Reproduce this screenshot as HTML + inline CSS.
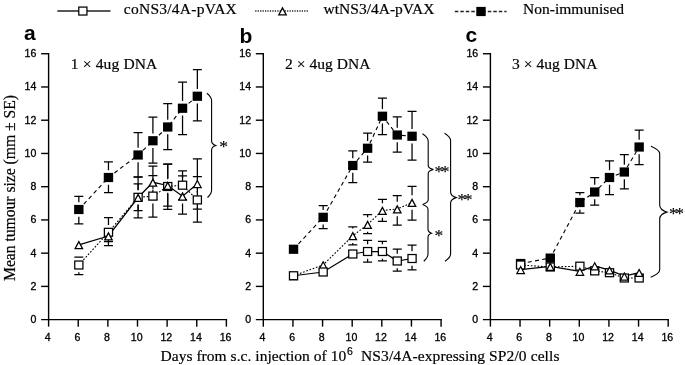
<!DOCTYPE html>
<html><head><meta charset="utf-8"><title>Figure</title>
<style>html,body{margin:0;padding:0;background:#fff}svg{display:block}</style></head>
<body>
<svg width="685" height="365" viewBox="0 0 685 365">
<rect width="685" height="365" fill="#fff"/>
<g stroke="#000" stroke-width="1.4" fill="none" stroke-linecap="butt">
<path d="M48.60 52.98 V319.65 M41.10 319.65 H227.13"/>
<path d="M41.10 286.41 H48.60"/>
<path d="M41.10 253.17 H48.60"/>
<path d="M41.10 219.93 H48.60"/>
<path d="M41.10 186.69 H48.60"/>
<path d="M41.10 153.45 H48.60"/>
<path d="M41.10 120.21 H48.60"/>
<path d="M41.10 86.97 H48.60"/>
<path d="M41.10 53.73 H48.60"/>
<path d="M48.60 319.65 V326.65"/>
<path d="M78.23 319.65 V326.65"/>
<path d="M107.86 319.65 V326.65"/>
<path d="M137.49 319.65 V326.65"/>
<path d="M167.12 319.65 V326.65"/>
<path d="M196.75 319.65 V326.65"/>
<path d="M226.38 319.65 V326.65"/>
<path d="M263.30 52.98 V319.65 M255.80 319.65 H441.83"/>
<path d="M255.80 286.41 H263.30"/>
<path d="M255.80 253.17 H263.30"/>
<path d="M255.80 219.93 H263.30"/>
<path d="M255.80 186.69 H263.30"/>
<path d="M255.80 153.45 H263.30"/>
<path d="M255.80 120.21 H263.30"/>
<path d="M255.80 86.97 H263.30"/>
<path d="M255.80 53.73 H263.30"/>
<path d="M263.30 319.65 V326.65"/>
<path d="M292.93 319.65 V326.65"/>
<path d="M322.56 319.65 V326.65"/>
<path d="M352.19 319.65 V326.65"/>
<path d="M381.82 319.65 V326.65"/>
<path d="M411.45 319.65 V326.65"/>
<path d="M441.08 319.65 V326.65"/>
<path d="M490.40 52.98 V319.65 M482.90 319.65 H668.93"/>
<path d="M482.90 286.41 H490.40"/>
<path d="M482.90 253.17 H490.40"/>
<path d="M482.90 219.93 H490.40"/>
<path d="M482.90 186.69 H490.40"/>
<path d="M482.90 153.45 H490.40"/>
<path d="M482.90 120.21 H490.40"/>
<path d="M482.90 86.97 H490.40"/>
<path d="M482.90 53.73 H490.40"/>
<path d="M490.40 319.65 V326.65"/>
<path d="M520.03 319.65 V326.65"/>
<path d="M549.66 319.65 V326.65"/>
<path d="M579.29 319.65 V326.65"/>
<path d="M608.92 319.65 V326.65"/>
<path d="M638.55 319.65 V326.65"/>
<path d="M668.18 319.65 V326.65"/>
</g>
<g font-family="'Liberation Sans',sans-serif" font-size="10" fill="#000" stroke="#000" stroke-width="0.3">
<text transform="translate(36.40,323.15) scale(1.06,1)" text-anchor="end">0</text>
<text transform="translate(36.40,289.91) scale(1.06,1)" text-anchor="end">2</text>
<text transform="translate(36.40,256.67) scale(1.06,1)" text-anchor="end">4</text>
<text transform="translate(36.40,223.43) scale(1.06,1)" text-anchor="end">6</text>
<text transform="translate(36.40,190.19) scale(1.06,1)" text-anchor="end">8</text>
<text transform="translate(36.40,156.95) scale(1.06,1)" text-anchor="end">10</text>
<text transform="translate(36.40,123.71) scale(1.06,1)" text-anchor="end">12</text>
<text transform="translate(36.40,90.47) scale(1.06,1)" text-anchor="end">14</text>
<text transform="translate(36.40,57.23) scale(1.06,1)" text-anchor="end">16</text>
<text transform="translate(47.80,341) scale(1.06,1)" text-anchor="middle">4</text>
<text transform="translate(77.43,341) scale(1.06,1)" text-anchor="middle">6</text>
<text transform="translate(107.06,341) scale(1.06,1)" text-anchor="middle">8</text>
<text transform="translate(136.69,341) scale(1.06,1)" text-anchor="middle">10</text>
<text transform="translate(166.32,341) scale(1.06,1)" text-anchor="middle">12</text>
<text transform="translate(195.95,341) scale(1.06,1)" text-anchor="middle">14</text>
<text transform="translate(225.58,341) scale(1.06,1)" text-anchor="middle">16</text>
<text transform="translate(251.10,323.15) scale(1.06,1)" text-anchor="end">0</text>
<text transform="translate(251.10,289.91) scale(1.06,1)" text-anchor="end">2</text>
<text transform="translate(251.10,256.67) scale(1.06,1)" text-anchor="end">4</text>
<text transform="translate(251.10,223.43) scale(1.06,1)" text-anchor="end">6</text>
<text transform="translate(251.10,190.19) scale(1.06,1)" text-anchor="end">8</text>
<text transform="translate(251.10,156.95) scale(1.06,1)" text-anchor="end">10</text>
<text transform="translate(251.10,123.71) scale(1.06,1)" text-anchor="end">12</text>
<text transform="translate(251.10,90.47) scale(1.06,1)" text-anchor="end">14</text>
<text transform="translate(251.10,57.23) scale(1.06,1)" text-anchor="end">16</text>
<text transform="translate(262.50,341) scale(1.06,1)" text-anchor="middle">4</text>
<text transform="translate(292.13,341) scale(1.06,1)" text-anchor="middle">6</text>
<text transform="translate(321.76,341) scale(1.06,1)" text-anchor="middle">8</text>
<text transform="translate(351.39,341) scale(1.06,1)" text-anchor="middle">10</text>
<text transform="translate(381.02,341) scale(1.06,1)" text-anchor="middle">12</text>
<text transform="translate(410.65,341) scale(1.06,1)" text-anchor="middle">14</text>
<text transform="translate(440.28,341) scale(1.06,1)" text-anchor="middle">16</text>
<text transform="translate(478.20,323.15) scale(1.06,1)" text-anchor="end">0</text>
<text transform="translate(478.20,289.91) scale(1.06,1)" text-anchor="end">2</text>
<text transform="translate(478.20,256.67) scale(1.06,1)" text-anchor="end">4</text>
<text transform="translate(478.20,223.43) scale(1.06,1)" text-anchor="end">6</text>
<text transform="translate(478.20,190.19) scale(1.06,1)" text-anchor="end">8</text>
<text transform="translate(478.20,156.95) scale(1.06,1)" text-anchor="end">10</text>
<text transform="translate(478.20,123.71) scale(1.06,1)" text-anchor="end">12</text>
<text transform="translate(478.20,90.47) scale(1.06,1)" text-anchor="end">14</text>
<text transform="translate(478.20,57.23) scale(1.06,1)" text-anchor="end">16</text>
<text transform="translate(489.60,341) scale(1.06,1)" text-anchor="middle">4</text>
<text transform="translate(519.23,341) scale(1.06,1)" text-anchor="middle">6</text>
<text transform="translate(548.86,341) scale(1.06,1)" text-anchor="middle">8</text>
<text transform="translate(578.49,341) scale(1.06,1)" text-anchor="middle">10</text>
<text transform="translate(608.12,341) scale(1.06,1)" text-anchor="middle">12</text>
<text transform="translate(637.75,341) scale(1.06,1)" text-anchor="middle">14</text>
<text transform="translate(667.38,341) scale(1.06,1)" text-anchor="middle">16</text>
</g>
<g stroke="#000" stroke-width="1.25" fill="none">
<path d="M78.83 196.25 V202.20 M74.33 196.25 H83.33 M78.83 216.80 V223.75 M74.33 223.75 H83.33"/>
<path d="M108.46 161.75 V170.20 M103.96 161.75 H112.96 M108.46 184.80 V192.50 M103.96 192.50 H112.96"/>
<path d="M138.09 132.50 V147.70 M133.59 132.50 H142.59 M138.09 162.30 V177.00 M133.59 177.00 H142.59"/>
<path d="M152.91 117.00 V133.45 M148.41 117.00 H157.41 M152.91 148.05 V163.00 M148.41 163.00 H157.41"/>
<path d="M167.72 103.50 V119.70 M163.22 103.50 H172.22 M167.72 134.30 V149.50 M163.22 149.50 H172.22"/>
<path d="M182.54 82.00 V100.95 M178.04 82.00 H187.04 M182.54 115.55 V134.50 M178.04 134.50 H187.04"/>
<path d="M197.35 69.50 V88.95 M192.85 69.50 H201.85 M197.35 103.55 V120.75 M192.85 120.75 H201.85"/>
<path d="M78.83 257.00 V257.70 M74.33 257.00 H83.33 M78.83 272.30 V274.50 M74.33 274.50 H83.33"/>
<path d="M108.46 217.50 V225.00 M103.96 217.50 H112.96 M108.46 239.60 V245.50 M103.96 245.50 H112.96"/>
<path d="M138.09 183.80 V190.00 M133.59 183.80 H142.59 M138.09 204.60 V210.50 M133.59 210.50 H142.59"/>
<path d="M152.91 175.50 V188.80 M148.41 175.50 H157.41 M152.91 203.40 V217.20 M148.41 217.20 H157.41"/>
<path d="M167.72 164.00 V179.20 M163.22 164.00 H172.22 M167.72 193.80 V209.30 M163.22 209.30 H172.22"/>
<path d="M182.54 170.80 V177.90 M178.04 170.80 H187.04 M182.54 192.50 V199.60 M178.04 199.60 H187.04"/>
<path d="M197.35 176.50 V192.60 M192.85 176.50 H201.85 M197.35 207.20 V222.20 M192.85 222.20 H201.85"/>
<path d="M103.96 230.50 H112.96 M103.96 241.50 H112.96"/>
<path d="M138.09 176.80 V190.30 M133.59 176.80 H142.59 M138.09 204.70 V217.80 M133.59 217.80 H142.59"/>
<path d="M152.91 166.20 V175.10 M148.41 166.20 H157.41 M152.91 189.50 V199.60 M148.41 199.60 H157.41"/>
<path d="M167.72 164.00 V178.30 M163.22 164.00 H172.22 M167.72 192.70 V206.00 M163.22 206.00 H172.22"/>
<path d="M182.54 175.90 V189.10 M178.04 175.90 H187.04 M182.54 203.50 V214.00 M178.04 214.00 H187.04"/>
<path d="M197.35 158.80 V176.50 M192.85 158.80 H201.85 M197.35 190.90 V209.00 M192.85 209.00 H201.85"/>
</g>
<polyline points="78.83,209.50 108.46,177.50 138.09,155.00 152.91,140.75 167.72,127.00 182.54,108.25 197.35,96.25" stroke-dasharray="4 3.3" stroke="#000" stroke-width="1.1" fill="none"/>
<polyline points="78.83,265.00 108.46,232.30 138.09,197.30 152.91,196.10 167.72,186.50 182.54,185.20 197.35,199.90" stroke-dasharray="1.7 1.7" stroke="#000" stroke-width="1.1" fill="none"/>
<polyline points="78.83,244.80 108.46,236.00 138.09,197.50 152.91,182.30 167.72,185.50 182.54,196.30 197.35,183.70" stroke="#000" stroke-width="1.25" fill="none"/>
<rect x="74.13" y="204.90" width="9.40" height="9.20" fill="#000"/>
<rect x="103.76" y="172.90" width="9.40" height="9.20" fill="#000"/>
<rect x="133.39" y="150.40" width="9.40" height="9.20" fill="#000"/>
<rect x="148.21" y="136.15" width="9.40" height="9.20" fill="#000"/>
<rect x="163.02" y="122.40" width="9.40" height="9.20" fill="#000"/>
<rect x="177.84" y="103.65" width="9.40" height="9.20" fill="#000"/>
<rect x="192.65" y="91.65" width="9.40" height="9.20" fill="#000"/>
<rect x="74.76" y="261.02" width="8.15" height="7.95" fill="#fff" stroke="#000" stroke-width="1.25"/>
<rect x="104.39" y="228.33" width="8.15" height="7.95" fill="#fff" stroke="#000" stroke-width="1.25"/>
<rect x="134.02" y="193.33" width="8.15" height="7.95" fill="#fff" stroke="#000" stroke-width="1.25"/>
<rect x="148.83" y="192.12" width="8.15" height="7.95" fill="#fff" stroke="#000" stroke-width="1.25"/>
<rect x="163.65" y="182.53" width="8.15" height="7.95" fill="#fff" stroke="#000" stroke-width="1.25"/>
<rect x="178.46" y="181.22" width="8.15" height="7.95" fill="#fff" stroke="#000" stroke-width="1.25"/>
<rect x="193.28" y="195.93" width="8.15" height="7.95" fill="#fff" stroke="#000" stroke-width="1.25"/>
<path d="M78.83 241.66 L82.58 248.66 L75.08 248.66 Z" fill="#fff" stroke="#000" stroke-width="1.25" stroke-linejoin="miter"/>
<path d="M108.46 232.86 L112.21 239.86 L104.71 239.86 Z" fill="#fff" stroke="#000" stroke-width="1.25" stroke-linejoin="miter"/>
<path d="M138.09 194.36 L141.84 201.36 L134.34 201.36 Z" fill="#fff" stroke="#000" stroke-width="1.25" stroke-linejoin="miter"/>
<path d="M152.91 179.16 L156.66 186.16 L149.16 186.16 Z" fill="#fff" stroke="#000" stroke-width="1.25" stroke-linejoin="miter"/>
<path d="M167.72 182.36 L171.47 189.36 L163.97 189.36 Z" fill="#fff" stroke="#000" stroke-width="1.25" stroke-linejoin="miter"/>
<path d="M182.54 193.16 L186.29 200.16 L178.79 200.16 Z" fill="#fff" stroke="#000" stroke-width="1.25" stroke-linejoin="miter"/>
<path d="M197.35 180.56 L201.10 187.56 L193.60 187.56 Z" fill="#fff" stroke="#000" stroke-width="1.25" stroke-linejoin="miter"/>
<g stroke="#000" stroke-width="1.25" fill="none">
<path d="M323.16 205.50 V210.00 M318.66 205.50 H327.66 M323.16 224.60 V228.50 M318.66 228.50 H327.66"/>
<path d="M352.79 150.75 V158.20 M348.29 150.75 H357.29 M352.79 172.80 V182.50 M348.29 182.50 H357.29"/>
<path d="M367.61 133.00 V140.95 M363.11 133.00 H372.11 M367.61 155.55 V162.00 M363.11 162.00 H372.11"/>
<path d="M382.42 98.00 V108.95 M377.92 98.00 H386.92 M382.42 123.55 V134.50 M377.92 134.50 H386.92"/>
<path d="M397.24 116.75 V127.70 M392.74 116.75 H401.74 M397.24 142.30 V152.00 M392.74 152.00 H401.74"/>
<path d="M412.05 111.25 V128.95 M407.55 111.25 H416.55 M412.05 143.55 V160.00 M407.55 160.00 H416.55"/>
<path d="M352.79 226.90 V228.60 M348.29 226.90 H357.29 M352.79 243.00 V244.90 M348.29 244.90 H357.29"/>
<path d="M367.61 214.50 V217.30 M363.11 214.50 H372.11 M367.61 231.70 V233.50 M363.11 233.50 H372.11"/>
<path d="M382.42 199.25 V203.30 M377.92 199.25 H386.92 M382.42 217.70 V221.25 M377.92 221.25 H386.92"/>
<path d="M397.24 195.50 V201.80 M392.74 195.50 H401.74 M397.24 216.20 V225.00 M392.74 225.00 H401.74"/>
<path d="M412.05 186.25 V195.30 M407.55 186.25 H416.55 M412.05 209.70 V220.00 M407.55 220.00 H416.55"/>
<path d="M367.61 240.40 V244.20 M363.11 240.40 H372.11 M367.61 258.80 V262.00 M363.11 262.00 H372.11"/>
<path d="M382.42 241.40 V244.20 M377.92 241.40 H386.92 M382.42 258.80 V260.90 M377.92 260.90 H386.92"/>
<path d="M397.24 249.00 V253.70 M392.74 249.00 H401.74 M397.24 268.30 V271.00 M392.74 271.00 H401.74"/>
<path d="M412.05 245.20 V251.20 M407.55 245.20 H416.55 M412.05 265.80 V269.80 M407.55 269.80 H416.55"/>
</g>
<polyline points="293.53,249.25 323.16,217.30 352.79,165.50 367.61,148.25 382.42,116.25 397.24,135.00 412.05,136.25" stroke-dasharray="4 3.3" stroke="#000" stroke-width="1.1" fill="none"/>
<polyline points="293.53,275.75 323.16,264.90 352.79,235.80 367.61,224.50 382.42,210.50 397.24,209.00 412.05,202.50" stroke-dasharray="1.7 1.7" stroke="#000" stroke-width="1.1" fill="none"/>
<polyline points="293.53,275.75 323.16,272.00 352.79,254.00 367.61,251.50 382.42,251.50 397.24,261.00 412.05,258.50" stroke="#000" stroke-width="1.25" fill="none"/>
<rect x="288.83" y="244.65" width="9.40" height="9.20" fill="#000"/>
<rect x="318.46" y="212.70" width="9.40" height="9.20" fill="#000"/>
<rect x="348.09" y="160.90" width="9.40" height="9.20" fill="#000"/>
<rect x="362.90" y="143.65" width="9.40" height="9.20" fill="#000"/>
<rect x="377.72" y="111.65" width="9.40" height="9.20" fill="#000"/>
<rect x="392.53" y="130.40" width="9.40" height="9.20" fill="#000"/>
<rect x="407.35" y="131.65" width="9.40" height="9.20" fill="#000"/>
<path d="M293.53 272.61 L297.28 279.61 L289.78 279.61 Z" fill="#fff" stroke="#000" stroke-width="1.25" stroke-linejoin="miter"/>
<path d="M323.16 261.76 L326.91 268.76 L319.41 268.76 Z" fill="#fff" stroke="#000" stroke-width="1.25" stroke-linejoin="miter"/>
<path d="M352.79 232.66 L356.54 239.66 L349.04 239.66 Z" fill="#fff" stroke="#000" stroke-width="1.25" stroke-linejoin="miter"/>
<path d="M367.61 221.36 L371.36 228.36 L363.86 228.36 Z" fill="#fff" stroke="#000" stroke-width="1.25" stroke-linejoin="miter"/>
<path d="M382.42 207.36 L386.17 214.36 L378.67 214.36 Z" fill="#fff" stroke="#000" stroke-width="1.25" stroke-linejoin="miter"/>
<path d="M397.24 205.86 L400.99 212.86 L393.49 212.86 Z" fill="#fff" stroke="#000" stroke-width="1.25" stroke-linejoin="miter"/>
<path d="M412.05 199.36 L415.80 206.36 L408.30 206.36 Z" fill="#fff" stroke="#000" stroke-width="1.25" stroke-linejoin="miter"/>
<rect x="289.45" y="271.77" width="8.15" height="7.95" fill="#fff" stroke="#000" stroke-width="1.25"/>
<rect x="319.08" y="268.02" width="8.15" height="7.95" fill="#fff" stroke="#000" stroke-width="1.25"/>
<rect x="348.71" y="250.03" width="8.15" height="7.95" fill="#fff" stroke="#000" stroke-width="1.25"/>
<rect x="363.53" y="247.53" width="8.15" height="7.95" fill="#fff" stroke="#000" stroke-width="1.25"/>
<rect x="378.34" y="247.53" width="8.15" height="7.95" fill="#fff" stroke="#000" stroke-width="1.25"/>
<rect x="393.16" y="257.02" width="8.15" height="7.95" fill="#fff" stroke="#000" stroke-width="1.25"/>
<rect x="407.98" y="254.53" width="8.15" height="7.95" fill="#fff" stroke="#000" stroke-width="1.25"/>
<g stroke="#000" stroke-width="1.25" fill="none">
<path d="M579.89 192.50 V195.20 M575.39 192.50 H584.39 M579.89 209.80 V213.00 M575.39 213.00 H584.39"/>
<path d="M594.71 177.50 V184.70 M590.21 177.50 H599.21 M594.71 199.30 V205.00 M590.21 205.00 H599.21"/>
<path d="M609.52 160.75 V170.20 M605.02 160.75 H614.02 M609.52 184.80 V194.50 M605.02 194.50 H614.02"/>
<path d="M624.34 154.50 V164.70 M619.84 154.50 H628.84 M624.34 179.30 V188.75 M619.84 188.75 H628.84"/>
<path d="M639.15 130.00 V139.70 M634.65 130.00 H643.65 M639.15 154.30 V164.50 M634.65 164.50 H643.65"/>
</g>
<polyline points="520.63,263.50 550.26,258.10 579.89,202.50 594.71,192.00 609.52,177.50 624.34,172.00 639.15,147.00" stroke-dasharray="4 3.3" stroke="#000" stroke-width="1.1" fill="none"/>
<polyline points="520.63,265.00 550.26,267.00 579.89,266.20 594.71,270.90 609.52,272.70 624.34,278.00 639.15,278.00" stroke-dasharray="1.7 1.7" stroke="#000" stroke-width="1.1" fill="none"/>
<polyline points="520.63,269.70 550.26,266.50 579.89,271.40 594.71,265.90 609.52,270.10 624.34,276.20 639.15,272.60" stroke="#000" stroke-width="1.25" fill="none"/>
<rect x="515.93" y="258.90" width="9.40" height="9.20" fill="#000"/>
<rect x="545.56" y="253.50" width="9.40" height="9.20" fill="#000"/>
<rect x="575.19" y="197.90" width="9.40" height="9.20" fill="#000"/>
<rect x="590.00" y="187.40" width="9.40" height="9.20" fill="#000"/>
<rect x="604.82" y="172.90" width="9.40" height="9.20" fill="#000"/>
<rect x="619.63" y="167.40" width="9.40" height="9.20" fill="#000"/>
<rect x="634.45" y="142.40" width="9.40" height="9.20" fill="#000"/>
<rect x="516.55" y="261.02" width="8.15" height="7.95" fill="#fff" stroke="#000" stroke-width="1.25"/>
<rect x="546.18" y="263.02" width="8.15" height="7.95" fill="#fff" stroke="#000" stroke-width="1.25"/>
<rect x="575.81" y="262.22" width="8.15" height="7.95" fill="#fff" stroke="#000" stroke-width="1.25"/>
<rect x="590.63" y="266.92" width="8.15" height="7.95" fill="#fff" stroke="#000" stroke-width="1.25"/>
<rect x="605.44" y="268.72" width="8.15" height="7.95" fill="#fff" stroke="#000" stroke-width="1.25"/>
<rect x="620.26" y="274.02" width="8.15" height="7.95" fill="#fff" stroke="#000" stroke-width="1.25"/>
<rect x="635.07" y="274.02" width="8.15" height="7.95" fill="#fff" stroke="#000" stroke-width="1.25"/>
<path d="M520.63 266.56 L524.38 273.56 L516.88 273.56 Z" fill="#fff" stroke="#000" stroke-width="1.25" stroke-linejoin="miter"/>
<path d="M550.26 263.36 L554.01 270.36 L546.51 270.36 Z" fill="#fff" stroke="#000" stroke-width="1.25" stroke-linejoin="miter"/>
<path d="M579.89 268.26 L583.64 275.26 L576.14 275.26 Z" fill="#fff" stroke="#000" stroke-width="1.25" stroke-linejoin="miter"/>
<path d="M594.71 262.76 L598.46 269.76 L590.96 269.76 Z" fill="#fff" stroke="#000" stroke-width="1.25" stroke-linejoin="miter"/>
<path d="M609.52 266.96 L613.27 273.96 L605.77 273.96 Z" fill="#fff" stroke="#000" stroke-width="1.25" stroke-linejoin="miter"/>
<path d="M624.34 273.06 L628.09 280.06 L620.59 280.06 Z" fill="#fff" stroke="#000" stroke-width="1.25" stroke-linejoin="miter"/>
<path d="M639.15 269.46 L642.90 276.46 L635.40 276.46 Z" fill="#fff" stroke="#000" stroke-width="1.25" stroke-linejoin="miter"/>
<path d="M206.9 93.3 Q211.6 97.05 211.6 100.8 V141.0 Q211.6 144.15 215.8 145.5 Q211.6 146.85 211.6 150.0 V190.0 Q211.6 193.75 207.5 197.5" fill="none" stroke="#000" stroke-width="1.1"/>
<path d="M422.5 133.75 Q428.2 137.50 428.2 141.25 V165.5 Q428.2 168.30 433.5 169.5 Q428.2 170.70 428.2 173.5 V200.0 Q428.2 202.25 422.7 204.5" fill="none" stroke="#000" stroke-width="1.1"/>
<path d="M422.7 204.5 Q428 206.75 428 209.0 V229.25 Q428 232.05 431.5 233.25 Q428 234.45 428 237.25 V253.75 Q428 257.50 423.75 261.25" fill="none" stroke="#000" stroke-width="1.1"/>
<path d="M444.5 133.25 Q450.6 137.00 450.6 140.75 V192.1 Q450.6 195.95 456.1 197.6 Q450.6 199.25 450.6 203.1 V253.75 Q450.6 257.50 445 261.25" fill="none" stroke="#000" stroke-width="1.1"/>
<path d="M651 146.25 Q659.7 150.00 659.7 153.75 V205.1 Q659.7 210.00 666.8 212.1 Q659.7 214.20 659.7 219.1 V269.7 Q659.7 273.45 650.7 277.2" fill="none" stroke="#000" stroke-width="1.1"/>
<g font-family="'Liberation Serif',serif" font-size="15.5" fill="#000" stroke="#000" stroke-width="0.2">
<text x="70.8" y="69.3" textLength="86.5" lengthAdjust="spacing">1 × 4ug DNA</text>
<text x="285" y="69.3" textLength="85.5" lengthAdjust="spacing">2 × 4ug DNA</text>
<text x="512" y="69.3" textLength="85.5" lengthAdjust="spacing">3 × 4ug DNA</text>
<text x="123.8" y="14.4" textLength="113" lengthAdjust="spacing">coNS3/4A-pVAX</text>
<text x="323.6" y="14.4" textLength="110.8" lengthAdjust="spacing">wtNS3/4A-pVAX</text>
<text x="522.9" y="14.4" textLength="101.2" lengthAdjust="spacing">Non-immunised</text>
<text x="219.3" y="152.3" font-size="17.5" stroke-width="0.15">*</text>
<text x="434.6" y="177" font-size="17.5" stroke-width="0.15" textLength="14.8">**</text>
<text x="434.6" y="241" font-size="17.5" stroke-width="0.15">*</text>
<text x="457.5" y="205.3" font-size="17.5" stroke-width="0.15" textLength="15">**</text>
<text x="669" y="219.3" font-size="17.5" stroke-width="0.15" textLength="15">**</text>
<text x="160.5" y="361.2" textLength="185.7" lengthAdjust="spacing">Days from s.c. injection of 10</text>
<text x="346.9" y="354.8" font-family="'Liberation Sans',sans-serif" font-size="10.5">6</text>
<text x="361" y="361.2" textLength="198.5" lengthAdjust="spacing">NS3/4A-expressing SP2/0 cells</text>
<text transform="translate(15.2,281) rotate(-90)" textLength="186" lengthAdjust="spacing" font-size="15.7">Mean tumour size (mm ± SE)</text>
</g>
<g font-family="'Liberation Sans',sans-serif" font-weight="bold" font-size="21" fill="#000">
<text x="23.9" y="40.1">a</text>
<text x="239.4" y="42.9">b</text>
<text x="465.4" y="42.3">c</text>
</g>
<g stroke="#222" stroke-width="1.5" fill="none">
<path d="M57.3 11.1 H110.5"/>
<path d="M255.2 11.0 H308.6" stroke-dasharray="1.25 1.2" stroke-width="1.4"/>
<path d="M454.8 11.6 H506.5" stroke-dasharray="3.5 2"/>
</g>
<rect x="78.78" y="7.08" width="8.15" height="7.95" fill="#fff" stroke="#000" stroke-width="1.25"/>
<path d="M282.50 7.86 L286.25 14.86 L278.75 14.86 Z" fill="#fff" stroke="#000" stroke-width="1.25" stroke-linejoin="miter"/>
<rect x="476.30" y="6.90" width="9.40" height="9.20" fill="#000"/>
</svg>
</body></html>
